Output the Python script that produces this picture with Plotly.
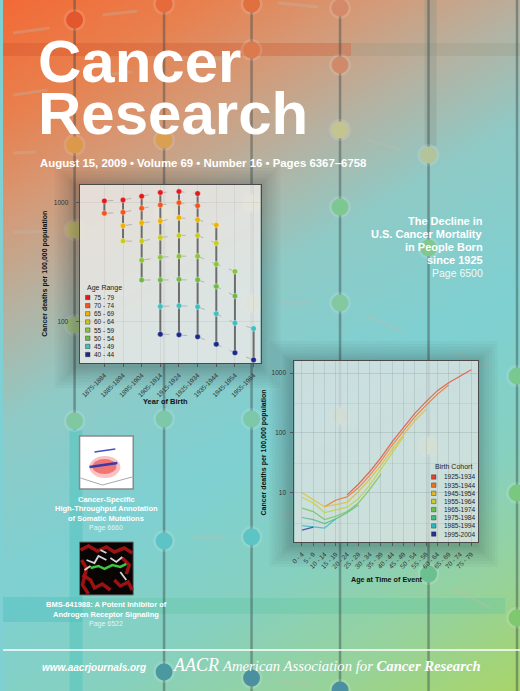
import base64
import plotly.graph_objects as go

W, H = 520, 691
SANS = "Liberation Sans, Arial, Helvetica, sans-serif"
SERIF = "Liberation Serif, Times New Roman, serif"

# ---- left chart: deaths per 100,000 by year of birth, one series per age range
birth_cohorts = ["1875-1884", "1885-1894", "1895-1904", "1905-1914", "1915-1924",
                 "1925-1934", "1935-1944", "1945-1954", "1955-1964"]
age_ranges = ["75 - 79", "70 - 74", "65 - 69", "60 - 64", "55 - 59", "50 - 54", "45 - 49", "40 - 44"]
deaths_75_79 = [1040, 1060, 1139, 1223, 1247, 1199, None, None, None]
deaths_70_74 = [818, 834, 901, 962, 1006, 949, None, None, None]
deaths_65_69 = [None, 642, 682, 704, 752, 723, 652, None, None]
deaths_60_64 = [None, 478, 478, 513, 533, 533, 459, None, None]
deaths_55_59 = [None, None, 330, 350, 357, 357, 306, 266, None]
deaths_50_54 = [None, None, 225, 225, 228, 226, 199, 165, None]
deaths_45_49 = [None, None, None, 135, 137, 134, 117, 98, 88]
deaths_40_44 = [None, None, None, 79, 78, 75, 65, 55, 48]
age_colors = ["#e31a1c", "#f2561d", "#f0b400", "#c9cc1a", "#8cc43c", "#6fb944", "#3fbfc0", "#1b2a87"]

# ---- right chart: deaths per 100,000 by age, one series per birth cohort
age_groups = ["0 - 4", "5 - 9", "10 - 14", "15 - 19", "20 - 24", "25 - 29", "30 - 34", "35 - 39",
              "40 - 44", "45 - 49", "50 - 54", "55 - 59", "60 - 64", "65 - 69", "70 - 74", "75 - 79"]
cohort_labels = ["1925-1934", "1935-1944", "1945-1954", "1955-1964",
                 "1965-1974", "1975-1984", "1985-1994", "1995-2004"]
c1925 = [None, None, None, None, 9.3, 14, 22.6, 39, 72, 124, 213, 333, 508, 690, 891, 1130]
c1935 = [None, None, 5.9, 7.6, 8.6, 12.2, 19.7, 34, 63, 108, 185, 290, 442, 630]
c1945 = [10.1, 7.6, 5.9, 6.4, 7.0, 10.5, 17, 29, 54, 93, 160, 248]
c1955 = [8.5, 6.8, 4.7, 5.2, 5.8, 8.0, 13.5, 25, 47, 87]
c1965 = [5.6, 4.9, 3.6, 4.1, 4.9, 6.8, 11.5, 20.7]
c1975 = [3.9, 3.6, 3.1, 3.7, 4.7, 6.3]
c1985 = [2.85, 2.7, 2.6, 3.7]
c1995 = [2.4, 2.7]
cohort_colors = ["#e8412c", "#f07020", "#e8b820", "#c4cf2c", "#6cc04a", "#48b87c", "#28b8c8", "#283090"]

left_series = [deaths_75_79, deaths_70_74, deaths_65_69, deaths_60_64,
               deaths_55_59, deaths_50_54, deaths_45_49, deaths_40_44]
right_series = [c1925, c1935, c1945, c1955, c1965, c1975, c1985, c1995]


def X(p):
    return p / W


def Y(p):
    return 1 - p / H


shapes = []
annotations = []


def rect(x0, y0, x1, y1, fill, line=None, lw=0):
    shapes.append(dict(type="rect", xref="paper", yref="paper", layer="below",
                       x0=X(x0), x1=X(x1), y0=Y(y1), y1=Y(y0), fillcolor=fill,
                       line=dict(color=line or "rgba(0,0,0,0)", width=lw)))


def seg(x0, y0, x1, y1, color, width, dash=None):
    shapes.append(dict(type="line", xref="paper", yref="paper", layer="below",
                       x0=X(x0), x1=X(x1), y0=Y(y0), y1=Y(y1),
                       line=dict(color=color, width=width, dash=dash)))


def dot(cx, cy, r, fill):
    shapes.append(dict(type="circle", xref="paper", yref="paper", layer="below",
                       x0=X(cx - r), x1=X(cx + r), y0=Y(cy + r), y1=Y(cy - r),
                       fillcolor=fill, line=dict(width=0)))


def path(d, color, width, fill=None):
    shapes.append(dict(type="path", xref="paper", yref="paper", layer="below", path=d,
                       fillcolor=fill or "rgba(0,0,0,0)", line=dict(color=color, width=width)))


def pth(points):
    # points in page pixels -> svg path in paper units
    return "M " + " L ".join(f"{X(a):.4f},{Y(b):.4f}" for a, b in points)


def txt(s, x, y, size, color="white", weight="normal", style="normal",
        xanchor="left", family=SANS, angle=0):
    annotations.append(dict(text=s, x=X(x), y=Y(y), xref="paper", yref="paper",
                            xanchor=xanchor, yanchor="middle", showarrow=False, textangle=angle,
                            font=dict(family=family, size=size, color=color, weight=weight, style=style)))


# ---- background decoration (metro style lines and dots)
rect(0, 43, 350, 56, "rgba(205,80,40,0.32)")
rect(350, 43, 520, 56, "rgba(150,150,130,0.28)")
rect(424, 0, 436, 146, "rgba(130,150,140,0.32)")
rect(0, 597, 80, 622, "rgba(80,190,190,0.45)")
rect(80, 598, 505, 614, "rgba(90,195,160,0.32)")
rect(67, 430, 80, 691, "rgba(80,195,190,0.5)")

for x0, y0, x1, y1 in [(10, 33, 47, 28), (100, 15, 135, 11), (277, 3, 317, 7), (367, 140, 400, 150),
                       (10, 153, 33, 152), (278, 303, 313, 303), (365, 315, 403, 332),
                       (453, 352, 490, 367), (190, 538, 223, 537), (277, 681, 313, 685),
                       (278, 515, 310, 515), (453, 588, 490, 608), (100, 75, 130, 72),
                       (190, 55, 225, 60), (10, 95, 45, 90), (10, 232, 45, 232)]:
    seg(x0, y0, x1, y1, "rgba(190,190,180,0.3)", 3)

seg(72, 0, 72, 430, "rgba(60,70,70,0.45)", 2.5)
for lx in [162, 250, 339, 428, 517]:
    seg(lx, 0, lx, H, "rgba(60,75,75,0.45)", 2.5)

metro_dots = [(72, 20, "#e4572e"), (162, 4, "#e66a3a"), (250, 4, "#e0703f"), (250, 50, "#dc7a4e"),
              (339, 8, "#d4896a"), (339, 65, "#d08a6a"), (72, 145, "#da9a4a"), (162, 140, "#d8a050"),
              (339, 130, "#c4c490"), (428, 155, "#b4c49a"), (72, 230, "#c8be72"), (162, 213, "#d0c890"),
              (250, 203, "#c8c898"), (250, 303, "#a8c8a0"), (72, 325, "#a8c88a"), (72, 421, "#80c8a0"),
              (162, 419, "#7cc8a8"), (250, 419, "#7cc8a8"), (339, 207, "#7cc890"), (428, 248, "#80c890"),
              (339, 303, "#84c8a0"), (517, 376, "#78c890"), (339, 416, "#9ccca8"), (428, 446, "#a0d0a0"),
              (428, 574, "#6cc090"), (517, 493, "#78c880"), (517, 618, "#80c870"), (162, 541, "#5cc4c4"),
              (250, 537, "#5cc4c4"), (162, 672, "#4a98a0"), (250, 678, "#4a90a0"), (339, 690, "#4a90a0")]
for cx, cy, col in metro_dots:
    dot(cx, cy, 11, "rgba(255,255,255,0.12)")
    dot(cx, cy, 8.5, col)

# ---- soft shadows and chart panels
L_BOX = (77, 185, 259, 363)
R_BOX = (293, 361, 478, 542)
for bx in [L_BOX, R_BOX]:
    for pad in [22, 19, 16, 13, 10, 8, 6, 4, 2]:
        rect(bx[0] - pad - 3, bx[1] - pad + 2, bx[2] + pad - 2, bx[3] + pad + 3, "rgba(20,35,35,0.03)")
rect(*L_BOX, "rgba(250,248,246,0.78)")
rect(*R_BOX, "rgba(255,255,255,0.66)")

# ---- thumbnails
rect(77, 436, 131, 489, "white", "#8a8a8a", 1.5)
path(pth([(78, 478), (100, 485), (130, 477)]), "rgba(120,120,120,0.8)", 0.8)
shapes.append(dict(type="circle", xref="paper", yref="paper", layer="below",
                   x0=X(87), x1=X(118), y0=Y(478), y1=Y(456), fillcolor="rgba(240,80,80,0.35)",
                   line=dict(width=0)))
shapes.append(dict(type="circle", xref="paper", yref="paper", layer="below",
                   x0=X(90), x1=X(114), y0=Y(474), y1=Y(459), fillcolor="rgba(230,40,40,0.5)",
                   line=dict(width=0)))
seg(92, 452, 113, 449, "rgba(50,60,190,0.9)", 1.5)
seg(87, 467, 115, 463, "rgba(40,50,170,0.9)", 2.5)

rect(77, 542, 131, 595, "#0a0505", "#707070", 1)
for pts in [[(78, 550), (86, 546), (95, 551), (104, 547), (112, 552), (122, 548), (130, 553)],
            [(80, 575), (88, 580), (92, 588), (100, 584), (108, 590)],
            [(112, 580), (118, 586), (126, 582), (130, 590)],
            [(79, 560), (84, 568), (80, 585), (86, 594)],
            [(120, 558), (127, 565), (124, 574)]]:
    path(pth(pts), "rgba(170,20,20,0.9)", 3.5)
for pts in [[(84, 560), (92, 563), (96, 556), (104, 560)], [(108, 558), (114, 562), (120, 557)],
            [(98, 550), (104, 553)], [(118, 572), (124, 580)], [(82, 570), (88, 566)]]:
    path(pth(pts), "rgba(225,225,225,0.95)", 1.8)
path(pth([(88, 568), (96, 566), (102, 569), (110, 565), (118, 567), (124, 564)]), "#3cc83c", 2.5)

# ---- manual legends (compact rows)
for k, lab in enumerate(age_ranges):
    yy = 297.5 + 8.15 * k
    rect(83, yy - 2.2, 87.5, yy + 2.2, age_colors[k], "rgba(40,40,40,0.8)", 0.5)
    txt(lab, 90, yy, 6.5, color="#222")
txt("Age Range", 82, 288, 7, color="#222")

for k, lab in enumerate(cohort_labels):
    yy = 477 + 8.15 * k
    rect(431, yy - 2.2, 435.5, yy + 2.2, cohort_colors[k], "rgba(40,40,40,0.8)", 0.5)
    txt(lab, 442, yy, 6.5, color="#222")
txt("Birth Cohort", 432, 466.5, 7, color="#222")

# ---- cover texts
txt("Cancer", 33, 62, 60, weight="bold")
txt("Research", 33, 114, 60, weight="bold")
txt("August 15, 2009 • Volume 69 • Number 16 • Pages 6367–6758", 35, 163, 11.4, weight="bold")
for s, yy in [("The Decline in", 221), ("U.S. Cancer Mortality", 234), ("in People Born", 247),
              ("since 1925", 260)]:
    txt(s, 485, yy, 11, weight="bold", xanchor="right")
txt("Page 6500", 485, 272.5, 10.5, color="rgba(255,255,255,0.9)", xanchor="right")

for s, yy in [("Cancer-Specific", 499), ("High-Throughput Annotation", 508.5), ("of Somatic Mutations", 518)]:
    txt(s, 104, yy, 7.5, weight="bold", xanchor="center")
txt("Page 6660", 104, 527.5, 7, color="rgba(255,255,255,0.8)", xanchor="center")
for s, yy in [("BMS-641988: A Potent Inhibitor of", 604.5), ("Androgen Receptor Signaling", 614)]:
    txt(s, 104, yy, 7.5, weight="bold", xanchor="center")
txt("Page 6522", 104, 624, 7, color="rgba(255,255,255,0.8)", xanchor="center")

seg(0, 650, W, 650, "white", 1.6)
txt("www.aacrjournals.org", 37, 667, 10, weight="bold", style="italic")
txt("AACR", 169, 665, 18, style="italic", family=SERIF)
txt("American Association for <b>Cancer Research</b>", 218, 666, 14.7, style="italic", family=SERIF)

# ---- axis titles
txt("Cancer deaths per 100,000 population", 42, 274, 7, color="#111", weight="bold",
    xanchor="center", angle=-90)
txt("Year of Birth", 163, 401, 7.5, color="#111", weight="bold", xanchor="center")
txt("Cancer deaths per 100,000 population", 263, 452, 7, color="#111", weight="bold",
    xanchor="center", angle=-90)
txt("Age at Time of Event", 386, 579, 7.2, color="#111", weight="bold", xanchor="center")

fig = go.Figure()

# left chart: dashed age links, cohort stems, coloured points
for k, s in enumerate(left_series):
    fig.add_trace(go.Scatter(x=birth_cohorts, y=s, mode="lines", xaxis="x", yaxis="y",
                             line=dict(color="rgba(175,175,175,0.9)", width=1, dash="dash"),
                             hoverinfo="skip", showlegend=False))
for j, cohort in enumerate(birth_cohorts):
    vals = [s[j] for s in left_series if s[j] is not None]
    fig.add_trace(go.Scatter(x=[cohort, cohort], y=[min(vals), max(vals)], mode="lines",
                             xaxis="x", yaxis="y", line=dict(color="rgba(90,90,90,0.85)", width=2),
                             hoverinfo="skip", showlegend=False))
for k, s in enumerate(left_series):
    fig.add_trace(go.Scatter(x=birth_cohorts, y=s, mode="markers", xaxis="x", yaxis="y", name=age_ranges[k],
                             marker=dict(color=age_colors[k], size=5.5,
                                         line=dict(color="rgba(255,255,255,0.6)", width=0.6)),
                             showlegend=False))

# right chart
for k, s in enumerate(right_series):
    fig.add_trace(go.Scatter(x=age_groups[:len(s)], y=s, mode="lines", xaxis="x2", yaxis="y2",
                             name=cohort_labels[k], opacity=0.75,
                             line=dict(color=cohort_colors[k], width=1.2), showlegend=False))

# gradient page background as an inline svg image (orange top-left to green bottom-right)
svg = f"""<svg xmlns='http://www.w3.org/2000/svg' width='{W}' height='{H}' viewBox='0 0 {W} {H}' preserveAspectRatio='none'>
<defs><linearGradient id='g' gradientUnits='userSpaceOnUse' x1='0' y1='0' x2='429' y2='743'>
<stop offset='0' stop-color='#f26a36'/><stop offset='0.12' stop-color='#e8804e'/>
<stop offset='0.22' stop-color='#d49a78'/><stop offset='0.32' stop-color='#b4b2a2'/>
<stop offset='0.43' stop-color='#8ecac6'/><stop offset='0.60' stop-color='#7ed0d2'/>
<stop offset='0.75' stop-color='#86d0c0'/><stop offset='0.88' stop-color='#96d29a'/>
<stop offset='1' stop-color='#a8d468'/>
</linearGradient></defs><rect width='{W}' height='{H}' fill='url(#g)'/></svg>"""
bg_src = "data:image/svg+xml;base64," + base64.b64encode(svg.encode()).decode()

axis_common = dict(showline=True, mirror=True, linecolor="#4a4a4a", linewidth=1, ticks="outside",
                   ticklen=3, tickcolor="#555", zeroline=False, fixedrange=True,
                   tickfont=dict(family=SANS, size=6.5, color="#333"))

fig.update_layout(
    width=W, height=H, margin=dict(l=0, r=0, t=0, b=0),
    paper_bgcolor="#7ed0d2", plot_bgcolor="rgba(0,0,0,0)",
    images=[dict(source=bg_src, xref="paper", yref="paper", x=0, y=1, sizex=1, sizey=1,
                 xanchor="left", yanchor="top", sizing="stretch", layer="below")],
    shapes=shapes, annotations=annotations,
    xaxis=dict(domain=[X(L_BOX[0]), X(L_BOX[2])], anchor="y", type="category",
               categoryorder="array", categoryarray=birth_cohorts, range=[-1.33, 8.37],
               tickangle=-45, showgrid=True, gridcolor="rgba(0,0,0,0.05)", ticklabelstandoff=2,
               **axis_common),
    yaxis=dict(domain=[Y(L_BOX[3]), Y(L_BOX[1])], anchor="x", type="log", range=[1.655, 3.151],
               tickvals=[100, 1000], ticktext=["100", "1000"], showgrid=True,
               gridcolor="rgba(0,0,0,0.05)", ticklabelstandoff=6, **axis_common),
    xaxis2=dict(domain=[X(R_BOX[0]), X(R_BOX[2])], anchor="y2", type="category",
                categoryorder="array", categoryarray=age_groups, range=[-0.68, 15.62],
                tickangle=-45, showgrid=True, gridcolor="rgba(120,140,140,0.22)", ticklabelstandoff=2,
                **axis_common),
    yaxis2=dict(domain=[Y(R_BOX[3]), Y(R_BOX[1])], anchor="x2", type="log", range=[0.183, 3.2],
                tickvals=[10, 100, 1000], ticktext=["10", "100", "1000"], showgrid=True,
                gridcolor="rgba(120,140,140,0.25)", ticklabelstandoff=3,
                minor=dict(tickvals=[3.16, 31.6, 316], showgrid=True, gridcolor="rgba(120,140,140,0.13)",
                           ticks=""),
                **axis_common),
)

# the page body keeps the browser's default 8px margin otherwise
fig.write_html("out.html", config={"displayModeBar": False},
               post_script="document.body.style.margin='0';")
